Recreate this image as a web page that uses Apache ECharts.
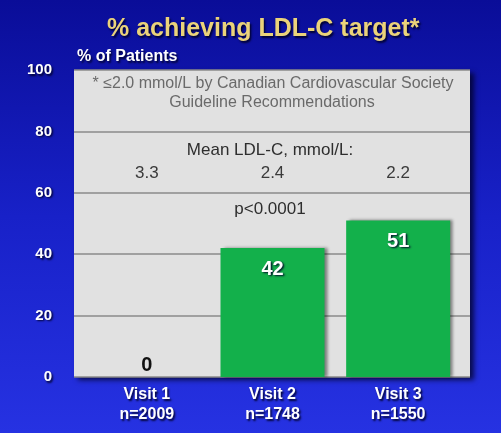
<!DOCTYPE html>
<html>
<head>
<meta charset="utf-8">
<script src="https://cdn.jsdelivr.net/npm/echarts@6/dist/echarts.min.js"></script>
<style>html,body{margin:0;padding:0;background:#1a22c8;}#c{width:501px;height:433px;}</style>
</head>
<body>
<div id="c"></div>
<script>
var visits = ['Visit 1', 'Visit 2', 'Visit 3'];
var nPatients = ['n=2009', 'n=1748', 'n=1550'];
var pctTarget = [0, 42, 51];
var meanLDL = ['3.3', '2.4', '2.2'];
var yTicks = [0, 20, 40, 60, 80, 100];
var titleText = '% achieving LDL-C target*';
var yName = '% of Patients';
var footnote1 = '* \u22642.0 mmol/L by Canadian Cardiovascular Society';
var footnote2 = 'Guideline Recommendations';
var meanTitle = 'Mean LDL-C, mmol/L:';
var pText = 'p<0.0001';
var meanLevel = 66.5;

var F = '"Liberation Sans", Arial, sans-serif';
var shadowTxt = {textShadowColor: 'rgba(0,0,40,0.9)', textShadowBlur: 2, textShadowOffsetX: 1.5, textShadowOffsetY: 1.5};

var chart = echarts.init(document.getElementById('c'));
chart.setOption({
  animation: false,
  backgroundColor: new echarts.graphic.LinearGradient(0, 0, 0, 1, [
    {offset: 0, color: '#0a0d98'},
    {offset: 0.5, color: '#1821c8'},
    {offset: 1, color: '#2632e2'}
  ]),
  title: {
    text: titleText, left: 102, top: 12,
    textStyle: Object.assign({color: '#ebd37a', fontFamily: F, fontWeight: 'bold', fontSize: 25}, shadowTxt)
  },
  grid: [
    {left: 74, right: 31, top: 70, bottom: 56, show: true, backgroundColor: '#e1e1e1', borderWidth: 0,
     shadowColor: 'rgba(0,0,30,0.75)', shadowBlur: 5, shadowOffsetX: 4, shadowOffsetY: 3},
    {left: 84, right: 40, top: 70, bottom: 56}
  ],
  xAxis: [
    {gridIndex: 0, type: 'category', data: visits, show: false},
    {gridIndex: 1, type: 'category', data: visits,
     axisLine: {show: false}, axisTick: {show: false},
     axisLabel: Object.assign({
       color: '#fff', fontFamily: F, fontWeight: 'bold', fontSize: 16, lineHeight: 20, margin: 8,
       formatter: function (v, i) { return v + '\n' + nPatients[i]; }
     }, shadowTxt)}
  ],
  yAxis: [
    {gridIndex: 0, type: 'value', min: 0, max: 100, interval: 20,
     name: yName, nameLocation: 'end', nameGap: 5,
     nameTextStyle: Object.assign({color: '#fff', fontFamily: F, fontWeight: 'bold', fontSize: 16, align: 'left', padding: [0, 0, 0, 3]}, shadowTxt),
     axisLine: {show: false}, axisTick: {show: false},
     axisLabel: Object.assign({color: '#fff', fontFamily: F, fontWeight: 'bold', fontSize: 15, margin: 22,
       formatter: function (v) { return yTicks.indexOf(v) >= 0 ? String(v) : ''; }}, shadowTxt),
     splitLine: {show: true, lineStyle: {color: '#8a8a8a', width: 1.5}}},
    {gridIndex: 1, type: 'value', min: 0, max: 100, interval: 20, show: false, splitLine: {show: false}}
  ],
  series: [
    {
      type: 'bar', xAxisIndex: 1, yAxisIndex: 1, barWidth: 104,
      itemStyle: {color: '#13b04b', shadowColor: 'rgba(0,0,0,0.45)', shadowBlur: 3, shadowOffsetX: 3},
      data: pctTarget.map(function (v) {
        return {
          value: v,
          label: v === 0
            ? {show: true, position: 'top', distance: 2, color: '#111', fontFamily: F, fontWeight: 'bold', fontSize: 20}
            : Object.assign({show: true, position: 'insideTop', distance: 11, color: '#fff', fontFamily: F, fontWeight: 'bold', fontSize: 20}, shadowTxt)
        };
      })
    },
    {
      type: 'scatter', xAxisIndex: 1, yAxisIndex: 1, symbolSize: 0, silent: true,
      itemStyle: {opacity: 1},
      data: meanLDL.map(function (m, i) { return [i, meanLevel]; }),
      label: {show: true, position: 'inside', color: '#3a3a3a', fontFamily: F, fontSize: 17,
        formatter: function (p) { return meanLDL[p.dataIndex]; }}
    }
  ],
  graphic: [
    {type: 'text', x: 273, y: 84, style: {text: footnote1, align: 'center', verticalAlign: 'middle', fill: '#6a6a6a', font: '16px ' + F}},
    {type: 'text', x: 272, y: 103, style: {text: footnote2, align: 'center', verticalAlign: 'middle', fill: '#6a6a6a', font: '16px ' + F}},
    {type: 'text', x: 270, y: 150, style: {text: meanTitle, align: 'center', verticalAlign: 'middle', fill: '#2e2e2e', font: '17px ' + F}},
    {type: 'text', x: 270, y: 209, style: {text: pText, align: 'center', verticalAlign: 'middle', fill: '#2e2e2e', font: '17px ' + F}}
  ]
});
</script>
</body>
</html>
